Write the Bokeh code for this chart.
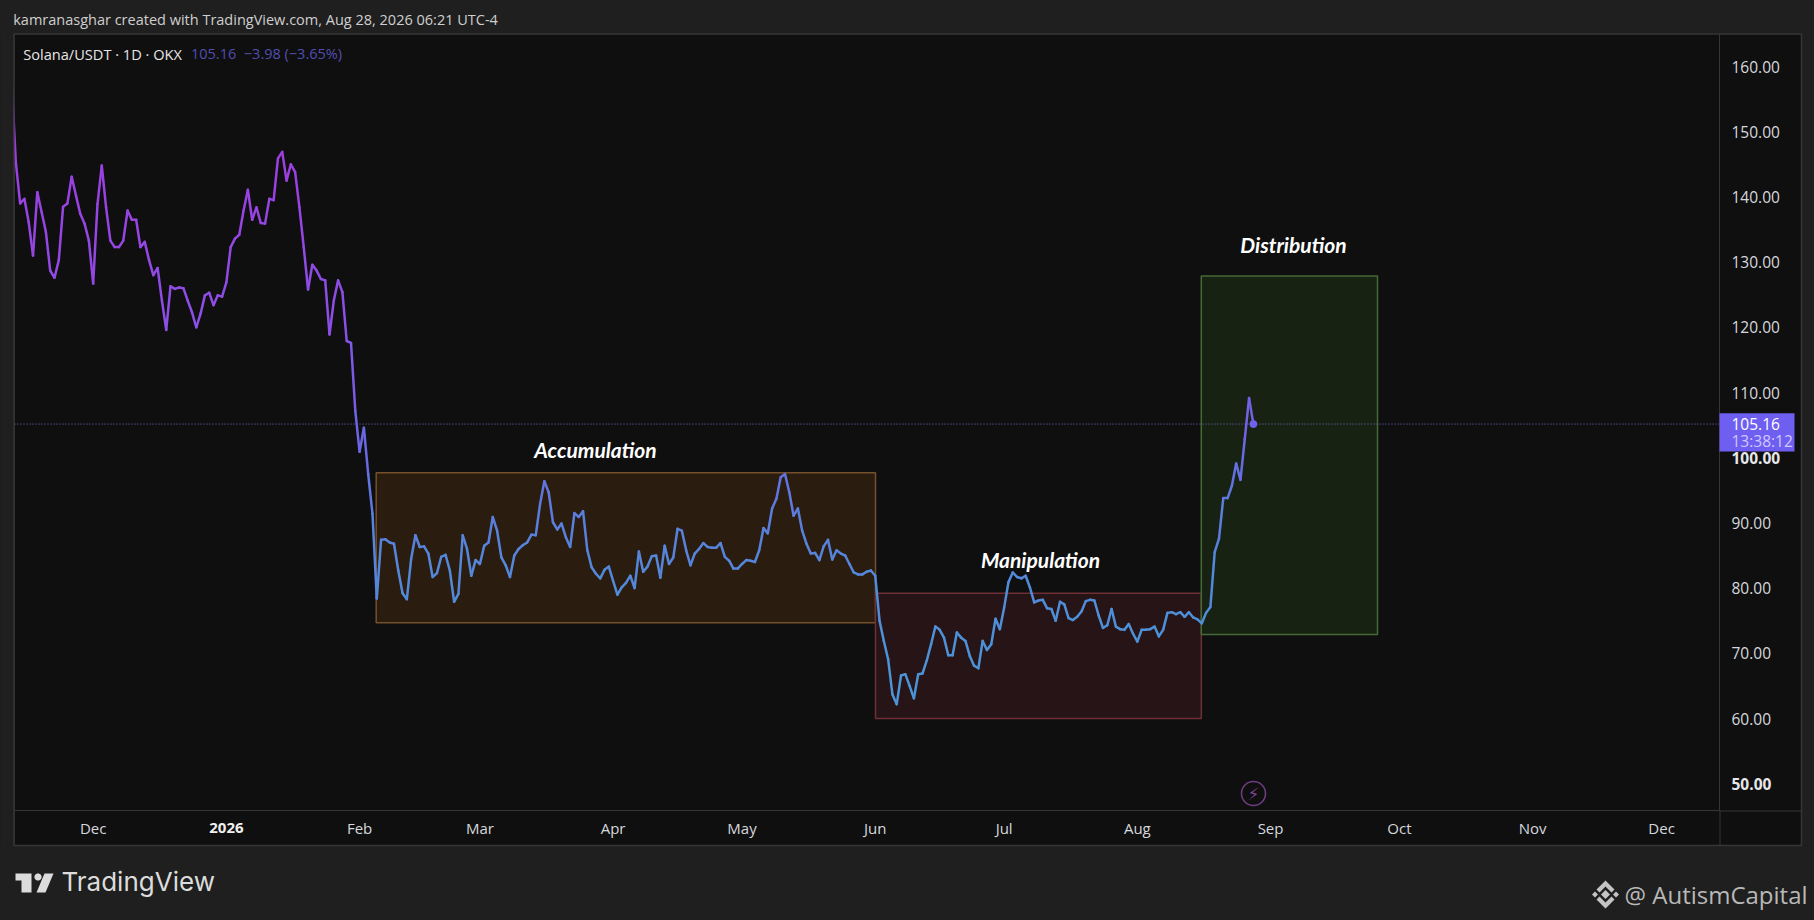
import numpy as np
import pandas as pd
from bokeh.plotting import figure
from bokeh.embed import file_html
from bokeh.resources import INLINE
from bokeh.models import (Range1d, Label, BoxAnnotation, PolyAnnotation, FixedTicker,
                          LinearColorMapper, ColumnDataSource, NumeralTickFormatter)

# ---------------- data ----------------
decline_prices = [158.1,145.3,139.0,139.7,136.1,131.0,140.7,137.7,134.6,128.7,127.6,130.3,138.5,139.0,143.1,140.2,137.4,135.9,133.3,126.7,
                  138.9,144.8,138.4,133.3,132.3,132.3,133.3,137.9,136.5,136.5,132.3,133.1,130.3,128.0,129.1,124.1,119.6,126.3,125.9,126.1,
                  126.0,124.1,122.3,120.0,122.1,124.9,125.3,123.4,124.9,124.7,126.9,132.3,133.6,134.2,137.9,141.1,136.5,138.4,136.0,135.9,
                  139.7,139.5,145.9,146.9,142.5,145.0,143.8,138.4,132.3,125.8,129.6,128.7,127.4,127.2,118.9,124.1,127.2,125.4,117.9,117.6,
                  107.2,100.9,104.6,97.5,91.4,78.4]
accumulation_prices = [87.4,87.5,87.0,86.8,82.7,79.2,78.3,84.5,88.1,86.3,86.4,85.3,81.7,82.3,84.8,85.1,82.7,77.9,79.1,88.1,
                       86.0,81.9,84.3,83.7,86.5,87.0,90.9,88.8,84.7,83.5,81.7,85.0,86.0,86.6,87.0,88.2,88.1,92.9,96.4,94.7,
                       90.1,89.0,89.9,87.8,86.3,91.5,90.9,91.8,85.8,83.2,82.2,81.5,82.8,83.3,81.1,79.0,80.1,80.8,81.9,80.0,
                       85.6,82.5,83.3,84.9,85.0,81.6,86.5,83.7,84.7,89.1,88.8,85.8,83.5,85.3,86.0,86.9,86.3,86.2,86.2,86.9,
                       84.8,84.2,83.0,83.0,83.7,84.3,84.2,84.0,85.8,89.2,88.4,92.2,93.7,97.0,97.5,94.7,91.1,92.2,88.8,86.8,
                       85.3,85.4,84.3,86.4,87.4,84.4,85.8,85.3,85.0,83.7,82.4,82.1,82.1,82.5,82.7,81.9]
manipulation_prices = [75.0,71.9,69.1,63.7,62.2,66.6,66.8,65.0,63.1,66.8,66.9,68.9,71.4,74.1,73.6,72.4,69.7,69.7,73.2,72.4,
                       71.9,69.6,68.1,67.7,71.9,70.5,71.4,75.3,73.7,77.0,80.9,82.4,81.7,81.5,81.9,80.1,77.8,78.1,78.2,76.9,
                       76.8,75.0,77.9,77.5,75.4,75.1,75.6,76.4,78.0,78.2,78.1,75.8,73.9,74.3,76.8,74.1,73.7,73.6,74.5,73.0,
                       71.8,73.6,73.6,73.7,74.1,72.6,73.6,76.2,76.3,76.0,76.3,75.6,76.3,75.5,75.2,74.6,76.2,77.1]
breakout_prices = [85.5,87.6,93.8,93.8,95.7,99.1,96.6,102.9,109.14,105.16]
last_price = 105.16
price_ticks = [50,60,70,80,90,100,110,120,130,140,150,160]
bold_price_ticks = [50,100]
month_ticks = ["2025-12-01","2026-01-01","2026-02-01","2026-03-01","2026-04-01","2026-05-01","2026-06-01",
               "2026-07-01","2026-08-01","2026-09-01","2026-10-01","2026-11-01","2026-12-01"]
month_labels = ["Dec","2026","Feb","Mar","Apr","May","Jun","Jul","Aug","Sep","Oct","Nov","Dec"]
gradient_prices = [60,75,90,102,120,150]
gradient_colors = ["#4a95d8","#4e90d8","#5a7fdc","#6a68e4","#8a50e6","#a03cdf"]

# ---------------- scales: page pixels <-> data ----------------
DAY_PX, PRICE_PX = 4.297, 6.52
X = lambda px: (px - 15.33) / DAY_PX      # days since 2025-11-13
Y = lambda py: 160 - (py - 66) / PRICE_PX
PY = lambda price: 66 + (160 - price) * PRICE_PX
prices = decline_prices + accumulation_prices + manipulation_prices + breakout_prices
days = np.arange(len(prices)) - 1.0
t0 = pd.Timestamp("2025-11-13")
month_x = [(pd.Timestamp(m) - t0).days for m in month_ticks]

BG, PANEL, RULE = "#1f1f1f", "#0f0f0f", "#363636"
TXT = "#d6d8de"
FONT = "Open Sans"

# the frame fills the whole canvas; the axes sit at fixed locations inside it
p = figure(width=1814, height=920, frame_width=1814, frame_height=920,
           output_backend="svg", toolbar_location=None,
           x_range=Range1d(X(0), X(1814)), y_range=Range1d(Y(920), Y(0)),
           y_axis_location="right", min_border=0,
           background_fill_color=BG, border_fill_color=BG, outline_line_color=None)
p.grid.visible = False

def box(l, r, t, b, fill, line=None, level="underlay", lw=1.0):
    p.add_layout(BoxAnnotation(left=X(l), right=X(r), top=Y(t), bottom=Y(b), fill_color=fill, fill_alpha=1,
                               line_color=line, line_alpha=1 if line else 0, line_width=lw, level=level))

def label(px, py, text, size=13.5, color=TXT, font=FONT, style="normal", align="left", base="middle"):
    p.add_layout(Label(x=X(px), y=Y(py), text=text, text_font=font,
                       text_font_size=f"{size}px", text_color=color,
                       text_font_style=style, text_align=align, text_baseline=base))

def poly(pts, color):
    p.add_layout(PolyAnnotation(xs=[X(a) for a, _ in pts], ys=[Y(b) for _, b in pts],
                                fill_color=color, fill_alpha=1, line_color=None, line_alpha=0))

# panel behind the axes
box(13.5, 1801, 33.5, 845, PANEL, RULE, lw=1.5)
box(1719, 1801, 810, 811, RULE)
box(1719, 1720, 810, 845, RULE)

# phase rectangles
box(375.7, 875, PY(97.7), PY(74.7), "#2a1c0f", "#75502c", lw=1.5)
box(875, 1200.8, PY(79.2), PY(60.0), "#261416", "#6e2f35", lw=1.5)
box(1200.8, 1377, PY(127.85), PY(72.9), "#172213", "#456a35", lw=1.5)

# last price line
p.line([X(14), X(1719)], [last_price, last_price], line_color="#8078e0", line_alpha=0.9, line_width=1, line_dash="1 2")

# gradient price line
grid = np.linspace(gradient_prices[0], gradient_prices[-1], 256)
rgb = np.array([[int(c[i:i + 2], 16) for i in (1, 3, 5)] for c in gradient_colors], dtype=float)
palette = ["#%02x%02x%02x" % tuple(int(round(np.interp(g, gradient_prices, rgb[:, k]))) for k in range(3)) for g in grid]
mapper = LinearColorMapper(palette=palette, low=gradient_prices[0], high=gradient_prices[-1])
pa = np.array(prices)
src = ColumnDataSource(dict(x0=days[:-1], x1=days[1:], y0=pa[:-1], y1=pa[1:], mid=(pa[:-1] + pa[1:]) / 2))
p.segment("x0", "y0", "x1", "y1", source=src, line_width=2.5, line_cap="round",
          line_color={"field": "mid", "transform": mapper})
p.scatter([days[-1]], [last_price], size=7, color="#7060ee")

# hide the part of the line left of the chart panel
box(0, 13, 33, 845, BG, level="annotation")
box(12.9, 14.1, 33, 845, RULE, level="annotation")

# axes
ya = p.yaxis[0]
ya.fixed_location = X(1719)
ya.bounds = (Y(810), Y(34))
ya.ticker = FixedTicker(ticks=price_ticks)
ya.formatter = NumeralTickFormatter(format="0.00")
ya.major_label_overrides = {t: " " for t in bold_price_ticks}
ya.major_label_standoff = 6
ya.major_label_text_font = FONT
ya.major_label_text_font_size = "15.5px"
ya.major_label_text_color = TXT
ya.major_tick_line_color = None
ya.minor_tick_line_color = None
ya.axis_line_color = RULE

xa = p.xaxis[0]
xa.fixed_location = Y(810)
xa.bounds = (X(14), X(1719))
xa.ticker = FixedTicker(ticks=month_x)
xa.major_label_overrides = {x: (" " if l == "2026" else l) for x, l in zip(month_x, month_labels)}
xa.major_label_standoff = 1
xa.major_label_text_font = FONT
xa.major_label_text_font_size = "15px"
xa.major_label_text_color = TXT
xa.major_tick_line_color = None
xa.minor_tick_line_color = None
xa.axis_line_color = RULE

# bold tick labels
for t in bold_price_ticks:
    label(1731, PY(t), f"{t}.00", size=15.5, style="bold", color="#e6e7ea")
label(15.33 + month_x[1] * DAY_PX, 827, "2026", size=15, style="bold", color="#f0f0f0", align="center")

# header and legend
label(12.7, 19, "kamranasghar created with TradingView.com, Aug 28, 2026 06:21 UTC-4", size=14.5, color="#cfcfcf")
label(22.7, 53, "Solana/USDT · 1D · OKX", size=14.6, color="#e6e6e6")
label(190.5, 53, "105.16\u00a0\u00a0−3.98 (−3.65%)", size=14.5, color="#524eb0")

# phase names
ann = dict(size=21, font="Lato", style="bold italic", color="#ffffff", align="center")
label(595, 448.5, "Accumulation", **ann)
label(1040, 559, "Manipulation", **ann)
label(1293, 243.5, "Distribution", **ann)

# price tag
box(1719, 1794, 412.7, 451, "#6f5ff0", level="annotation")
label(1731, 423, "105.16", size=15.5, color="#ffffff")
label(1731, 440, "13:38:12", size=15.5, color="#cfc8ff")

# event icon
p.scatter([X(1253)], [Y(793)], size=24, fill_color=None, line_color="#6d3c80", line_width=1.6)
label(1253, 793, "⚡", size=17, color="#7d4492", font="DejaVu Sans", align="center")

# TradingView logo
LOGO = "#dcdcdc"
poly([(15, 873), (31, 873), (31, 892), (21, 892), (21, 880), (15, 880)], LOGO)
poly([(53, 873), (44, 873), (36, 892), (45, 892)], LOGO)
th = np.linspace(0, 2 * np.pi, 24, endpoint=False)
poly([(37.5 + 3.6 * np.cos(a), 876.5 + 3.6 * np.sin(a)) for a in th], LOGO)
label(61, 881, "TradingView", size=26, font="Inter", color=LOGO)

# watermark
WM = "#c4c4c4"
cx, cy = 1605, 894
poly([(cx, cy - 4.5), (cx + 4.5, cy), (cx, cy + 4.5), (cx - 4.5, cy)], WM)
poly([(cx - 13.5, cy), (cx - 10.5, cy - 3), (cx - 7.5, cy), (cx - 10.5, cy + 3)], WM)
poly([(cx + 13.5, cy), (cx + 10.5, cy - 3), (cx + 7.5, cy), (cx + 10.5, cy + 3)], WM)
poly([(cx, cy - 14), (cx + 9, cy - 5), (cx + 6, cy - 2), (cx, cy - 8), (cx - 6, cy - 2), (cx - 9, cy - 5)], WM)
poly([(cx, cy + 14), (cx + 9, cy + 5), (cx + 6, cy + 2), (cx, cy + 8), (cx - 6, cy + 2), (cx - 9, cy + 5)], WM)
label(1624, 894, "@ AutismCapital", size=24, font="Open Sans", color="#b8b8b8")

html = file_html(p, INLINE, title="Solana/USDT")
html = html.replace("</head>", "<style>html,body{margin:0;background:#1f1f1f;overflow:hidden}</style></head>", 1)
open("out.html", "w").write(html)
